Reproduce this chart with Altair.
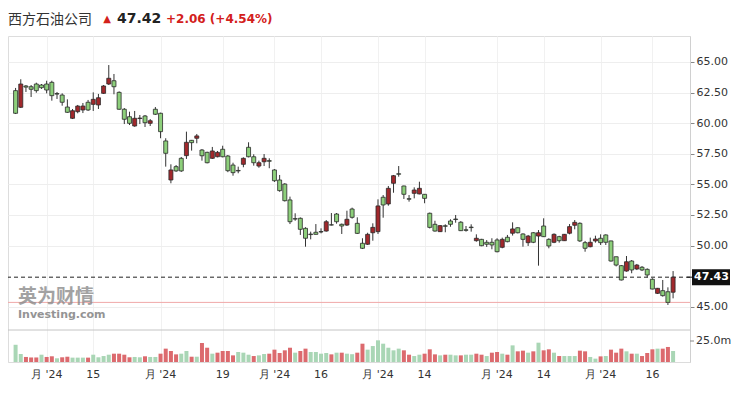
import altair as alt
import pandas as pd

# ---- data (daily candles, index = trading day) ----
opens = [62.66,61.30,63.04,62.98,63.20,63.12,63.20,63.34,62.42,62.30,61.32,60.40,60.94,61.08,61.71,61.54,61.49,62.44,63.20,63.47,
         62.52,61.14,60.53,59.77,60.38,60.59,59.99,61.14,60.81,58.55,55.36,56.45,57.13,57.35,58.60,58.77,57.81,57.62,57.13,57.26,
         57.87,57.32,56.58,56.14,56.64,58.03,57.26,56.50,56.85,56.94,56.18,55.36,55.03,53.73,52.20,52.23,51.41,50.94,51.09,51.15,
         51.19,51.70,52.58,51.74,51.68,52.99,51.82,50.19,50.11,51.05,51.14,53.95,53.40,55.09,55.87,54.87,53.83,54.27,54.22,54.19,
         52.64,51.74,51.14,51.62,52.01,52.17,51.91,51.29,51.51,50.40,50.51,50.27,50.27,50.46,49.86,50.68,51.01,51.46,50.95,50.24,
         51.05,50.78,51.60,50.51,50.27,50.73,50.40,51.01,51.66,51.82,50.24,49.91,50.38,50.60,50.87,50.38,49.09,48.36,47.92,48.74,
         48.09,48.23,48.06,47.25,46.10,46.32,46.23,46.19]
highs = [62.88,63.59,63.12,63.12,63.31,63.20,63.47,63.47,62.55,62.44,61.95,61.16,61.49,61.65,61.90,62.52,62.39,63.12,64.75,64.02,
         62.60,61.24,60.94,61.00,60.67,60.67,60.34,61.32,60.86,58.77,56.64,56.58,57.24,59.31,58.63,59.12,57.89,57.67,58.06,57.73,
         58.16,57.40,56.77,56.45,57.21,58.44,57.46,56.94,57.48,57.13,56.25,55.77,55.10,54.00,52.64,52.30,51.50,51.14,51.76,51.41,
         52.09,52.66,52.66,51.80,52.85,53.10,52.31,50.60,51.05,51.82,53.78,54.13,54.87,55.77,56.50,54.90,54.13,54.76,55.22,54.20,
         52.70,52.03,51.68,51.74,52.15,52.50,52.00,51.60,51.74,50.92,50.55,50.45,50.60,50.60,50.65,50.87,51.90,51.50,51.00,50.87,
         51.10,51.27,52.23,50.60,51.00,50.80,50.95,51.76,52.09,51.90,50.38,50.65,50.81,50.92,50.92,50.40,49.10,48.41,49.15,48.82,
         48.50,48.33,48.14,47.33,46.54,47.19,46.59,47.92]
lows = [60.75,61.24,62.55,62.14,62.49,62.80,62.44,61.84,61.98,61.43,60.85,60.34,60.81,60.83,61.00,61.00,61.16,62.39,63.12,62.36,
        61.10,59.93,59.85,59.71,59.93,59.69,59.77,60.67,58.77,56.45,55.09,56.02,56.02,57.08,57.76,58.36,56.94,56.72,57.08,57.21,
        57.21,56.00,55.71,55.91,56.40,57.21,56.53,56.36,56.50,56.32,55.20,54.40,53.60,51.76,52.03,50.87,49.91,50.51,50.90,51.00,
        51.14,51.65,51.79,50.95,51.60,52.20,50.95,49.72,50.05,50.40,50.95,52.28,53.26,54.32,55.63,53.81,53.59,53.86,54.19,53.46,
        51.40,51.14,51.11,51.09,51.54,51.87,51.19,51.14,51.14,50.32,49.95,49.89,49.70,49.45,49.78,50.27,50.82,51.00,49.91,49.97,
        50.20,48.36,50.70,49.78,50.20,50.24,50.38,50.92,51.33,50.30,49.50,49.86,50.24,50.05,50.05,48.69,48.30,47.15,47.87,47.74,
        48.00,47.92,47.41,46.43,46.05,45.83,45.15,45.69]
closes = [60.81,63.20,62.95,62.77,62.66,62.90,62.71,62.25,62.38,61.71,60.89,61.02,61.40,61.40,61.08,61.95,62.08,63.04,63.67,62.98,
          61.14,60.32,59.99,60.40,60.42,60.04,60.20,60.73,59.31,57.54,56.18,56.10,56.10,58.44,58.41,58.96,57.34,56.77,57.73,57.62,
          57.26,56.12,55.96,56.10,57.13,57.26,56.77,56.77,57.13,56.89,55.30,54.49,53.67,51.95,52.17,51.33,50.60,50.90,50.92,51.11,
          51.95,51.68,51.95,51.60,52.15,52.31,51.00,49.78,50.92,51.49,53.24,53.32,54.68,55.71,55.83,54.19,53.79,54.54,54.68,53.86,
          51.49,51.19,51.63,51.58,51.74,52.13,51.22,51.25,51.47,50.60,49.99,50.11,50.05,49.50,50.51,50.32,51.36,51.05,50.51,50.78,
          50.27,51.05,50.73,49.97,50.92,50.40,50.92,51.55,51.90,50.38,49.78,50.27,50.54,50.24,50.27,48.74,48.41,47.19,48.68,48.01,
          48.41,48.01,47.60,46.45,46.51,45.91,45.36,47.42]
volumes_m = [20.5,9.5,6.0,5.4,5.4,8.7,6.0,6.8,4.4,5.6,6.3,5.2,5.2,5.2,5.2,8.7,5.6,7.1,8.7,9.9,
             9.9,8.7,5.6,6.0,5.6,6.8,6.0,6.0,9.9,15.9,13.1,9.1,9.9,13.1,6.3,6.3,22.6,17.0,9.9,11.1,
             13.1,13.1,7.9,11.9,11.1,8.7,7.1,7.9,9.5,9.9,14.7,10.7,13.9,17.0,11.1,13.1,15.9,11.9,11.9,9.9,
             10.7,9.1,11.1,11.1,9.9,9.3,11.1,21.8,14.7,19.0,25.8,21.8,17.0,13.9,15.9,13.9,8.7,7.1,8.7,9.9,
             15.1,9.1,7.9,8.7,8.7,7.9,7.9,8.7,8.7,9.9,8.7,7.1,11.1,11.9,9.9,8.7,19.8,12.7,13.5,11.1,
             12.7,23.0,13.9,15.1,11.1,7.1,7.1,7.1,7.1,13.5,12.7,6.0,4.0,6.7,7.1,14.7,11.1,15.9,12.7,9.9,
             9.9,7.1,10.7,15.1,15.9,15.9,17.9,13.1]

tick_idx = [6, 15, 28, 40, 50, 59, 70, 79, 93, 102, 113, 123]
tick_text = ["月 '24", "15", "月 '24", "19", "月 '24", "16", "月 '24", "14", "月 '24", "14", "月 '24", "16"]
price_ticks = [45, 50, 52.5, 55, 57.5, 60, 62.5, 65]

name = "西方石油公司"
last_price = 47.42
change_text = "+2.06 (+4.54%)"
prev_close = 45.36
badge_text = "47.43"

# ---- table ----
n = len(closes)
rows = []
for i in range(n):
    prev = closes[i - 1] if i > 0 else None
    rows.append({
        "idx": i, "open": opens[i], "high": highs[i], "low": lows[i], "close": closes[i],
        "volume": volumes_m[i],
        "cdir": "c_up" if closes[i] >= opens[i] else "c_down",
        "vdir": "v_up" if (prev is None or closes[i] >= prev) else "v_down",
    })
df = pd.DataFrame(rows)
ticks_df = pd.DataFrame({"idx": tick_idx, "lab": tick_text})

W, H = 682, 326
xscale = alt.Scale(domain=[-0.5, 129.3], nice=False, zero=False)
pscale = alt.Scale(domain=[40.49, 67.124], nice=False, zero=False)
vscale = alt.Scale(domain=[0, 388.1], nice=False)
cscale = alt.Scale(domain=["c_up", "c_down", "v_up", "v_down"],
                   range=["#a1282c", "#8dcf7b", "#a9d6b5", "#dc6a6e"])
FONT = "DejaVu Sans"

X = alt.X("idx:Q", scale=xscale,
          axis=alt.Axis(values=tick_idx, labels=False, ticks=False, grid=True,
                        gridColor="#f1f1f1", domainColor="#dcdcdc", title=None))

wicks = alt.Chart(df).mark_rule(color="#333333", strokeWidth=1).encode(
    x=X,
    y=alt.Y("low:Q", scale=pscale,
            axis=alt.Axis(orient="right", values=price_ticks, format=".2f", grid=True,
                          gridColor="#eeeeee", domainColor="#d0d0d0", tickColor="#888",
                          tickSize=4, labelPadding=2, labelFont=FONT, labelFontSize=11,
                          labelColor="#333", title=None)),
    y2="high:Q")
bodies = alt.Chart(df).mark_bar(size=4, stroke="#2a2a2a", strokeWidth=0.8).encode(
    x="idx:Q", y=alt.Y("open:Q", scale=pscale), y2="close:Q",
    color=alt.Color("cdir:N", scale=cscale, legend=None))

lines_df = pd.DataFrame({"p": [last_price]})
last_line = alt.Chart(lines_df).mark_rule(color="#222", strokeDash=[4, 3], strokeWidth=1).encode(
    y=alt.Y("p:Q", scale=pscale))
prev_line = alt.Chart(pd.DataFrame({"p": [prev_close]})).mark_rule(color="#f0a8a8", strokeWidth=1).encode(
    y=alt.Y("p:Q", scale=pscale))
badge = alt.Chart(lines_df).mark_rect(color="#111111", yOffset=-8, y2Offset=8).encode(
    x=alt.value(W + 2), x2=alt.value(W + 40), y=alt.Y("p:Q", scale=pscale), y2="p:Q")
badge_tick = alt.Chart(lines_df).mark_rule(color="#111", strokeWidth=1).encode(
    x=alt.value(W - 3), x2=alt.value(W + 2), y=alt.Y("p:Q", scale=pscale))
badge_txt = alt.Chart(pd.DataFrame({"p": [last_price], "t": [badge_text]})).mark_text(
    align="left", baseline="middle", color="white", font=FONT, fontSize=11, fontWeight="bold").encode(
    x=alt.value(W + 4), y=alt.Y("p:Q", scale=pscale), text="t:N")

def label(txt, x, y, size, color, weight="normal", font=FONT, align="left", opacity=1):
    return alt.Chart(pd.DataFrame({"t": [txt]})).mark_text(
        align=align, baseline="middle", fontSize=size, color=color, fontWeight=weight,
        font=font, opacity=opacity).encode(x=alt.value(x), y=alt.value(y), text="t:N")

header = [
    label(name, 0, -16, 14, "#333333", font="Noto Sans CJK SC"),
    label("▲", 99, -17, 10, "#d3201b", align="center"),
    label(f"{last_price:.2f}", 109, -17, 14, "#222222", weight="bold"),
    label(change_text, 158, -17, 12, "#d3201b", weight="bold"),
    label("英为财情", 10, 261, 19, "#8c8c8c", weight="bold", font="Noto Sans CJK SC", opacity=0.8),
    label("Investing.com", 10, 279, 11, "#7a7a7a", weight="bold", opacity=0.8),
]

xlabels = alt.Chart(ticks_df).mark_text(baseline="middle", font=FONT, fontSize=11, color="#333").encode(
    x="idx:Q", y=alt.value(H + 13), text="lab:N")

price_layer = alt.layer(wicks, prev_line, last_line, bodies, badge, badge_tick, badge_txt, xlabels, *header)

vol_bars = alt.Chart(df).mark_bar(size=4).encode(
    x="idx:Q", y=alt.Y("volume:Q", scale=vscale, axis=None),
    color=alt.Color("vdir:N", scale=cscale, legend=None))
sep = alt.Chart(pd.DataFrame({"a": [0]})).mark_rule(color="#c4c4c4", strokeWidth=1).encode(
    y=alt.value(294))
vol_lab_df = pd.DataFrame({"v": [25], "t": ["25.0m"]})
vol_tick = alt.Chart(vol_lab_df).mark_rule(color="#888").encode(
    x=alt.value(W), x2=alt.value(W + 4), y=alt.Y("v:Q", scale=vscale, axis=None))
vol_lab = alt.Chart(vol_lab_df).mark_text(align="left", baseline="middle", font=FONT, fontSize=11,
                                          color="#333").encode(
    x=alt.value(W + 6), y=alt.Y("v:Q", scale=vscale, axis=None), text="t:N")
vol_layer = alt.layer(vol_bars, sep, vol_tick, vol_lab)

chart = alt.layer(price_layer, vol_layer).resolve_scale(y="independent").properties(
    width=W, height=H,
    autosize=alt.AutoSizeParams(type="none"),
    padding={"left": 0, "top": 28, "right": 52, "bottom": 27},
).configure_view(stroke=None).configure(background="white")

chart.save("out.html", embed_options={"renderer": "svg", "actions": False})
